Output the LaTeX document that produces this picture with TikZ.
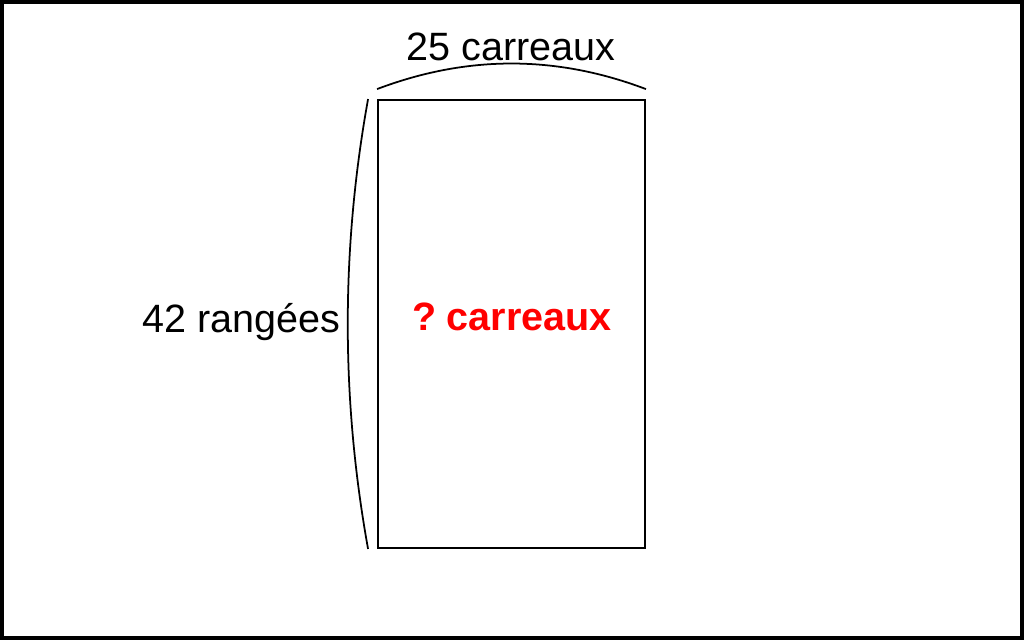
\documentclass[tikz,border=0pt]{standalone}
\usepackage{fontspec}
\setmainfont{Liberation Sans}
\usetikzlibrary{calc}
\tikzset{
    field/.style={
        rectangle, draw=black, line width=1.1pt,
        minimum width=5.34cm, minimum height=8.96cm,
        inner sep=0pt
    },
    dimlabel/.style={
        font=\fontsize{22.5}{27}\selectfont, inner sep=0pt
    },
    asklabel/.style={
        font=\fontsize{22.5}{27}\selectfont\bfseries,
        text=red, inner sep=0pt
    },
    brace/.style={draw=black, line width=1pt}
}

\begin{document}
\begin{tikzpicture}[x=0.02cm, y=-0.02cm]

% Frame
\useasboundingbox (0,0) rectangle (1024,640);
\draw[line width=2.3pt] (2,2) rectangle (1022,638);

% Floor area
\node[field] (floor) at (511.5,324) {};
\node[asklabel, anchor=base] (total) at (512,330) {?\hspace{-0.1em} carreaux};

% Dimension labels
\node[dimlabel, anchor=base] (width) at (511,60) {25 carreaux};
\node[dimlabel, anchor=base east] (rows) at (341,332) {42 rangées};

% Braces
\coordinate (topl) at ($(floor.north west)+(0,-10)$);
\coordinate (topr) at ($(floor.north east)+(0,-10)$);
\coordinate (lefta) at ($(floor.north west)+(-9,0)$);
\coordinate (leftb) at ($(floor.south west)+(-9,0)$);
\draw[brace] (topl) .. controls (467,55) and (556,55) .. (topr);
\draw[brace] (lefta) .. controls (341,249) and (341,399) .. (leftb);

\end{tikzpicture}
\end{document}
